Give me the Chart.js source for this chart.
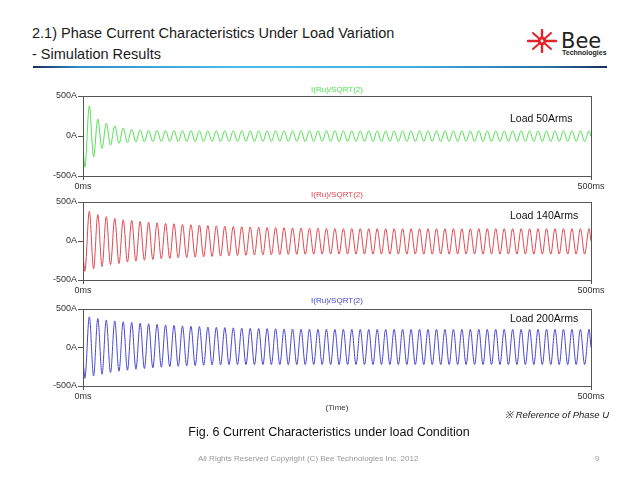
<!DOCTYPE html>
<html>
<head>
<meta charset="utf-8">
<script src="https://cdn.jsdelivr.net/npm/chart.js@4.4.0/dist/chart.umd.min.js"></script>
<style>
  body { margin: 0; width: 638px; height: 478px; background: #fff; position: relative; overflow: hidden;
         font-family: "Liberation Sans", Arial, sans-serif; }
  .txt { position: absolute; white-space: nowrap; line-height: 1; }
  .ctr { transform: translate(-50%, -50%); }
  .mid { transform: translateY(-50%); }
  .panel { position: absolute; left: 0; }
</style>
</head>
<body>

<div class="txt" style="left:32px; top:26px; font-size:14.5px; color:#1a1a1a;">2.1) Phase Current Characteristics Under Load Variation</div>
<div class="txt" style="left:32px; top:46.5px; font-size:14.5px; color:#1a1a1a;">- Simulation Results</div>

<!-- logo -->
<svg style="position:absolute; left:526px; top:29px;" width="34" height="24" viewBox="0 0 34 24">
  <g stroke="#e3242b" stroke-linecap="round">
    <line x1="16" y1="12" x2="16" y2="1" stroke-width="2.4"/>
    <line x1="16" y1="12" x2="16" y2="23" stroke-width="2.4"/>
    <line x1="16" y1="12" x2="2" y2="12" stroke-width="2.4"/>
    <line x1="16" y1="12" x2="30" y2="12" stroke-width="2.4"/>
    <line x1="16" y1="12" x2="7" y2="4" stroke-width="2"/>
    <line x1="16" y1="12" x2="25" y2="4" stroke-width="2"/>
    <line x1="16" y1="12" x2="7" y2="20" stroke-width="2"/>
    <line x1="16" y1="12" x2="25" y2="20" stroke-width="2"/>
  </g>
  <circle cx="16" cy="12" r="4.2" fill="#e3242b"/>
  <circle cx="16" cy="12" r="1.4" fill="#fff"/>
</svg>
<div class="txt" style="left:561px; top:31px; font-size:21px; color:#222; font-family:'DejaVu Sans';">Bee</div>
<div class="txt" style="left:562px; top:49px; font-size:7px; font-weight:bold; color:#222;">Technologies</div>

<div style="position:absolute; left:33px; top:66px; width:574px; height:2px;
  background:linear-gradient(to right, #1c2b58 0%, #2f8fc8 8%, #45c0e8 35%, #3db4e0 65%, #2a6fa8 90%, #1c2b58 100%);"></div>

<div class="panel" style="top:80px;"><canvas id="panel0" width="638" height="115"></canvas></div>
<div class="panel" style="top:186px;"><canvas id="panel1" width="638" height="113"></canvas></div>
<div class="panel" style="top:293px;"><canvas id="panel2" width="638" height="112"></canvas></div>

<div class="txt ctr" style="left:337px; top:408px; font-size:8px; color:#333;">(Time)</div>
<div class="txt mid" style="left:505px; top:415px; font-size:9.5px; font-style:italic; color:#222;">※ Reference of Phase U</div>
<div class="txt ctr" style="left:329px; top:432px; font-size:12.5px; color:#111;">Fig. 6 Current Characteristics under load Condition</div>
<div class="txt mid" style="left:198px; top:459px; font-size:8px; color:#999;">All Rights Reserved Copyright (C) Bee Technologies Inc. 2012</div>
<div class="txt ctr" style="left:597px; top:459px; font-size:8px; color:#999;">9</div>

<script>
// time base (120 Hz over 0..500 ms)
const PERIOD_MS = 8.333;
const X_MIN = 0;
const X_MAX = 500;
const xTicks = [0, 500];
const yTicks = [-500, 0, 500];

const traceName = 'I(Ru)/SQRT(2)';
const loadLabels = ['Load 50Arms', 'Load 140Arms', 'Load 200Arms'];
const traceColors = ['#52e052', '#e0444c', '#4646d0'];

// value at 0 ms and at 500 ms
const startValues = [-155, -175, -165];
const endValues = [0, 0, 0];

// negative / positive peak of each cycle, in A
const greenMin = [-385, -260, -155, -113, -92, -82, -76, -73, -71, -70,
  -69, -69, -68, -68, -68, -68, -68, -68, -68, -68,
  -68, -68, -68, -68, -68, -68, -68, -68, -68, -68,
  -68, -68, -68, -68, -68, -68, -68, -68, -68, -68,
  -68, -68, -68, -68, -68, -68, -68, -68, -68, -68,
  -68, -68, -68, -68, -68, -68, -68, -68, -68, -68];
const greenMax = [377, 210, 160, 126, 98, 84, 76, 72, 70, 68,
  67, 66, 66, 65, 65, 65, 65, 65, 65, 65,
  65, 65, 65, 65, 65, 65, 65, 65, 65, 65,
  65, 65, 65, 65, 65, 65, 65, 65, 65, 65,
  65, 65, 65, 65, 65, 65, 65, 65, 65, 65,
  65, 65, 65, 65, 65, 65, 65, 65, 65, 65];

const redMin = [-383, -354, -329, -304, -288, -271, -258, -246, -238, -229,
  -224, -217, -212, -207, -203, -198, -194, -190, -186, -183,
  -180, -178, -176, -174, -172, -171, -170, -169, -168, -168,
  -168, -168, -168, -168, -168, -168, -168, -168, -168, -168,
  -168, -168, -168, -168, -168, -168, -168, -168, -168, -168,
  -168, -168, -168, -168, -168, -168, -168, -168, -168, -168];
const redMax = [379, 338, 312, 288, 271, 263, 250, 242, 233, 225,
  221, 213, 208, 204, 198, 194, 190, 187, 183, 180,
  178, 175, 172, 170, 168, 166, 164, 163, 161, 160,
  159, 159, 158, 158, 158, 158, 158, 158, 158, 158,
  158, 158, 158, 158, 158, 158, 158, 158, 158, 158,
  158, 158, 158, 158, 158, 158, 158, 158, 158, 158];

const blueMin = [-394, -369, -347, -325, -308, -295, -282, -273, -264, -256,
  -249, -244, -239, -235, -231, -228, -226, -224, -223, -222,
  -222, -222, -222, -222, -222, -222, -222, -222, -222, -222,
  -222, -222, -222, -222, -222, -222, -222, -222, -222, -222,
  -222, -222, -222, -222, -222, -222, -222, -222, -222, -222,
  -222, -222, -222, -222, -222, -222, -222, -222, -222, -222];
const blueMax = [398, 377, 358, 345, 335, 325, 316, 308, 300, 293,
  287, 281, 276, 271, 266, 262, 258, 255, 252, 249,
  247, 245, 243, 241, 240, 239, 238, 237, 237, 236,
  236, 236, 236, 236, 236, 236, 236, 236, 236, 236,
  236, 236, 236, 236, 236, 236, 236, 236, 236, 236,
  236, 236, 236, 236, 236, 236, 236, 236, 236, 236];

const minsBySeries = [greenMin, redMin, blueMin];
const maxsBySeries = [greenMax, redMax, blueMax];

// per panel layout: gap of the trace name above the plot, load label offset
const panelLayout = [
  { titleGap: 6, loadDy: 23 },
  { titleGap: 7, loadDy: 14 },
  { titleGap: 8, loadDy: 10 }
];

// peaks sit a quarter period after each zero crossing
function buildTrace(i) {
  const pts = [{ x: X_MIN, y: startValues[i] }];
  const mins = minsBySeries[i];
  const maxs = maxsBySeries[i];
  for (let k = 0; k < mins.length; k++) {
    pts.push({ x: PERIOD_MS * (k + 0.25), y: mins[k] });
    pts.push({ x: PERIOD_MS * (k + 0.75), y: maxs[k] });
  }
  pts.push({ x: X_MAX, y: endValues[i] });
  return pts;
}

const panelDecor = {
  id: 'panelDecor',
  afterDraw(chart, args, opts) {
    const { ctx, chartArea: a } = chart;
    ctx.save();
    ctx.strokeStyle = '#555';
    ctx.lineWidth = 1;
    ctx.strokeRect(Math.round(a.left) + 0.5, Math.round(a.top) + 0.5,
                   Math.round(a.right - a.left), Math.round(a.bottom - a.top));
    ctx.font = '8px "Liberation Sans", Arial';
    ctx.fillStyle = opts.color;
    ctx.textAlign = 'center';
    ctx.textBaseline = 'middle';
    ctx.fillText(traceName, (a.left + a.right) / 2, a.top - opts.titleGap);
    ctx.font = '10.5px "Liberation Sans", Arial';
    ctx.fillStyle = '#111';
    ctx.textAlign = 'left';
    ctx.fillText(opts.load, a.left + 427, a.top + opts.loadDy);
    ctx.restore();
  }
};

const charts = [];
for (let i = 0; i < 3; i++) {
  const ctx = document.getElementById('panel' + i).getContext('2d');
  charts.push(new Chart(ctx, {
    type: 'line',
    data: {
      datasets: [{
        data: buildTrace(i),
        borderColor: traceColors[i],
        borderWidth: 1,
        pointRadius: 0,
        tension: 0.35,
        fill: false
      }]
    },
    options: {
      responsive: false,
      animation: false,
      layout: { padding: { top: 16, right: 47, left: 0, bottom: 0 } },
      plugins: {
        legend: { display: false },
        tooltip: { enabled: false },
        panelDecor: { color: traceColors[i], load: loadLabels[i],
                      titleGap: panelLayout[i].titleGap, loadDy: panelLayout[i].loadDy }
      },
      scales: {
        x: {
          type: 'linear',
          min: X_MIN,
          max: X_MAX,
          afterBuildTicks: s => { s.ticks = xTicks.map(v => ({ value: v })); },
          afterFit: s => { s.height = 19; },
          ticks: { callback: v => v + 'ms', color: '#333', font: { size: 9 }, padding: 1, maxRotation: 0 },
          grid: { drawOnChartArea: false, drawTicks: true, tickLength: 4, color: '#555' },
          border: { display: false }
        },
        y: {
          min: -500,
          max: 500,
          afterBuildTicks: s => { s.ticks = yTicks.map(v => ({ value: v })); },
          afterFit: s => { s.width = 83; },
          ticks: { callback: v => v + 'A', color: '#333', font: { size: 9 }, padding: 1 },
          grid: { drawOnChartArea: false, drawTicks: true, tickLength: 5, color: '#555' },
          border: { display: false }
        }
      }
    },
    plugins: [panelDecor]
  }));
}
</script>
</body>
</html>
